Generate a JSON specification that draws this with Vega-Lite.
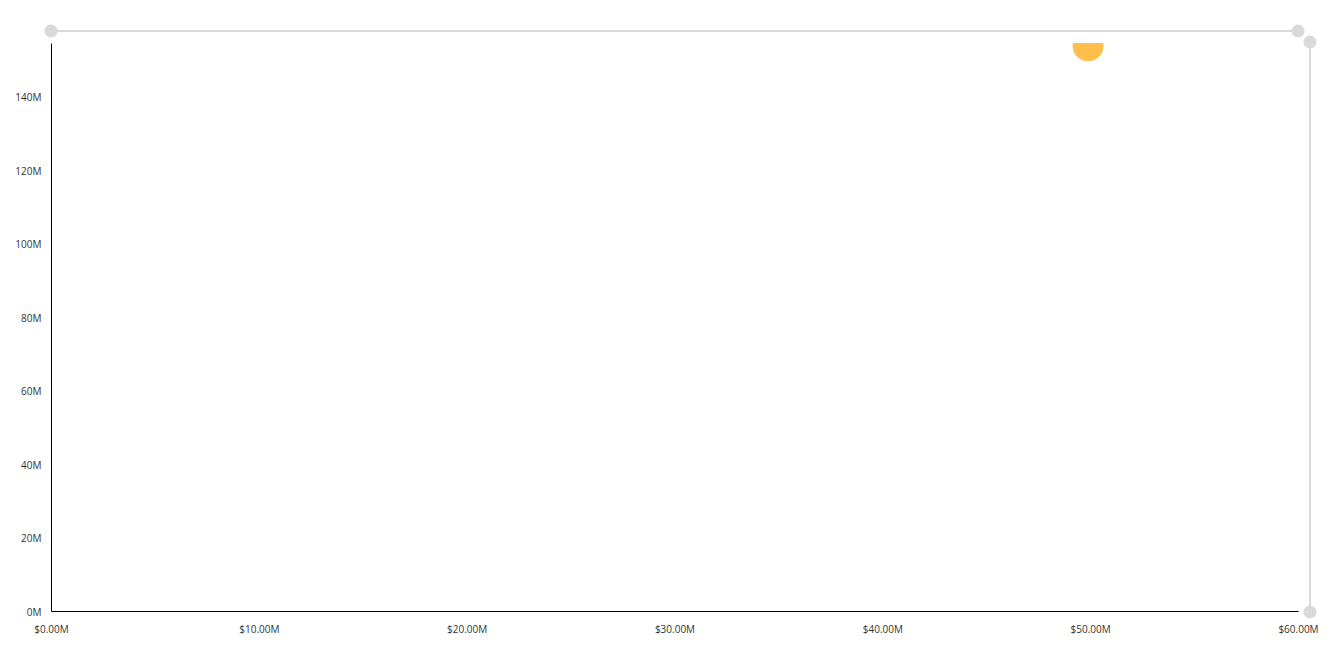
{
  "$schema": "https://vega.github.io/schema/vega-lite/v6.json",
  "width": 1247,
  "height": 568,
  "autosize": {"type": "none"},
  "padding": {"left": 51, "top": 43, "right": 36, "bottom": 36},
  "background": "white",
  "config": {
    "view": {"stroke": null},
    "axis": {"labelFont": "Open Sans", "labelFontSize": 10, "labelColor": "#333333", "grid": false, "ticks": false, "domainColor": "#000000", "domainWidth": 1, "title": null, "labelFlush": false, "labelOverlap": false}
  },
  "datasets": {
    "points": [{"revenue": 49900000, "units": 153900000}],
    "hslider": [{"x": 0, "x2": 60000000, "y": 157970000}],
    "hhandles": [{"x": 0, "y": 157970000}, {"x": 60000000, "y": 157970000}],
    "vslider": [{"x": 60577000, "y": 154970000, "y2": -270000}],
    "vhandles": [{"x": 60577000, "y": 154970000}, {"x": 60577000, "y": -270000}]
  },
  "layer": [
    {
      "data": {"name": "points"},
      "mark": {"type": "circle", "color": "#FFBF4A", "opacity": 1, "size": 950, "clip": true},
      "encoding": {
        "x": {"field": "revenue", "type": "quantitative", "scale": {"domain": [0, 60000000], "nice": false, "zero": true},
          "axis": {"values": [0, 10000000, 20000000, 30000000, 40000000, 50000000, 60000000], "labelExpr": "'$' + format(datum.value/1000000, '.2f') + 'M'", "labelPadding": 13}},
        "y": {"field": "units", "type": "quantitative", "scale": {"domain": [0, 154700000], "nice": false},
          "axis": {"values": [0, 20000000, 40000000, 60000000, 80000000, 100000000, 120000000, 140000000], "labelExpr": "format(datum.value/1000000, 'd') + 'M'", "labelPadding": 10, "labelOffset": 1}}
      }
    },
    {
      "data": {"name": "hslider"},
      "mark": {"type": "rule", "color": "#D9D9D9", "strokeWidth": 2},
      "encoding": {
        "x": {"field": "x", "type": "quantitative"},
        "x2": {"field": "x2"},
        "y": {"field": "y", "type": "quantitative"}
      }
    },
    {
      "data": {"name": "vslider"},
      "mark": {"type": "rule", "color": "#D9D9D9", "strokeWidth": 2},
      "encoding": {
        "x": {"field": "x", "type": "quantitative"},
        "y": {"field": "y", "type": "quantitative"},
        "y2": {"field": "y2"}
      }
    },
    {
      "data": {"name": "hhandles"},
      "mark": {"type": "circle", "color": "#D9D9D9", "opacity": 1, "size": 170},
      "encoding": {
        "x": {"field": "x", "type": "quantitative"},
        "y": {"field": "y", "type": "quantitative"}
      }
    },
    {
      "data": {"name": "vhandles"},
      "mark": {"type": "circle", "color": "#D9D9D9", "opacity": 1, "size": 170},
      "encoding": {
        "x": {"field": "x", "type": "quantitative"},
        "y": {"field": "y", "type": "quantitative"}
      }
    }
  ]
}
